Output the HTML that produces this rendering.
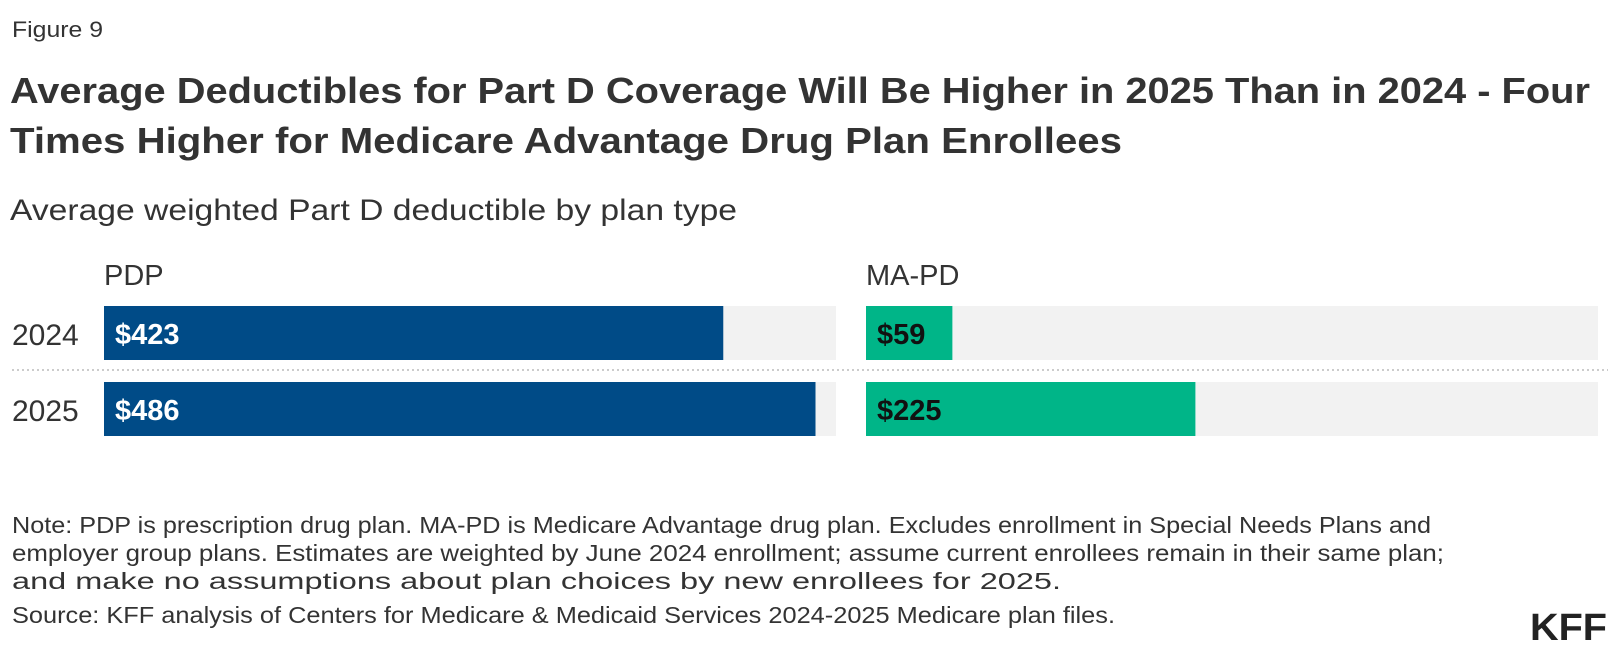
<!DOCTYPE html>
<html><head><meta charset="utf-8"><style>
html,body{margin:0;padding:0;background:#fff;}
svg{display:block;font-family:"Liberation Sans",sans-serif;}
</style></head><body>
<svg id="chart" width="1620" height="662" viewBox="0 0 1620 662">
<text x="12" y="37" font-size="22" fill="#333" textLength="91" lengthAdjust="spacingAndGlyphs">Figure 9</text>
<text x="10" y="103" font-size="36" font-weight="bold" fill="#333" textLength="1580" lengthAdjust="spacingAndGlyphs">Average Deductibles for Part D Coverage Will Be Higher in 2025 Than in 2024 - Four</text>
<text x="10" y="153" font-size="36" font-weight="bold" fill="#333" textLength="1112" lengthAdjust="spacingAndGlyphs">Times Higher for Medicare Advantage Drug Plan Enrollees</text>
<text x="10" y="220" font-size="30" fill="#333" textLength="727" lengthAdjust="spacingAndGlyphs">Average weighted Part D deductible by plan type</text>
<g id="bars"></g>
<text x="12" y="533" font-size="23" fill="#333" textLength="1419" lengthAdjust="spacingAndGlyphs">Note: PDP is prescription drug plan. MA-PD is Medicare Advantage drug plan. Excludes enrollment in Special Needs Plans and</text>
<text x="12" y="561" font-size="23" fill="#333" textLength="1432" lengthAdjust="spacingAndGlyphs">employer group plans. Estimates are weighted by June 2024 enrollment; assume current enrollees remain in their same plan;</text>
<text x="12" y="589" font-size="23" fill="#333" textLength="1049" lengthAdjust="spacingAndGlyphs">and make no assumptions about plan choices by new enrollees for 2025.</text>
<text x="12" y="623" font-size="23" fill="#333" textLength="1103" lengthAdjust="spacingAndGlyphs">Source: KFF analysis of Centers for Medicare &amp; Medicaid Services 2024-2025 Medicare plan files.</text>
<text x="1530" y="640" font-size="38" font-weight="bold" fill="#222" textLength="77" lengthAdjust="spacingAndGlyphs">KFF</text>
</svg>
<script>
const years = ["2024", "2025"];
const panels = ["PDP", "MA-PD"];
const pdpValues = [423, 486];
const mapdValues = [59, 225];
const valueLabels = [["$423", "$486"], ["$59", "$225"]];
const colors = ["#004b87", "#00b588"];
const textColors = ["#fff", "#111"];
const domainMax = 500;

const NS = "http://www.w3.org/2000/svg";
const g = document.getElementById("bars");
const panelX = [104, 866];
const trackW = 732;
const rowY = [306, 382];
const rowH = 54;
const xScale = v => v / domainMax * trackW;
function mk(tag, attrs) {
  const e = document.createElementNS(NS, tag);
  for (const k in attrs) e.setAttribute(k, attrs[k]);
  g.appendChild(e);
  return e;
}
const series = [pdpValues, mapdValues];
panels.forEach((p, pi) => {
  const t = mk("text", {x: panelX[pi], y: 285, "font-size": 29, fill: "#333"});
  t.textContent = p;
  
  
});
const sep = mk("line", {x1: 12, x2: 1608, y1: 370, y2: 370, stroke: "#ccc", "stroke-width": 2, "stroke-dasharray": "2,3"});


years.forEach((yr, ri) => {
  const yl = mk("text", {x: 12, y: rowY[ri] + 39, "font-size": 30, fill: "#333"});
  yl.textContent = yr;
  
  
  panels.forEach((p, pi) => {
    const tr = mk("rect", {x: panelX[pi], y: rowY[ri], width: trackW, height: rowH, fill: "#f2f2f2"});
    
    
    const b = mk("rect", {x: panelX[pi], y: rowY[ri], width: xScale(series[pi][ri]), height: rowH, fill: colors[pi]});
    
    
    const l = mk("text", {x: panelX[pi] + 11, y: rowY[ri] + 38, "font-size": 29, "font-weight": "bold", fill: textColors[pi]});
    l.textContent = valueLabels[pi][ri];
    
    
  });
});
</script>
</body></html>
